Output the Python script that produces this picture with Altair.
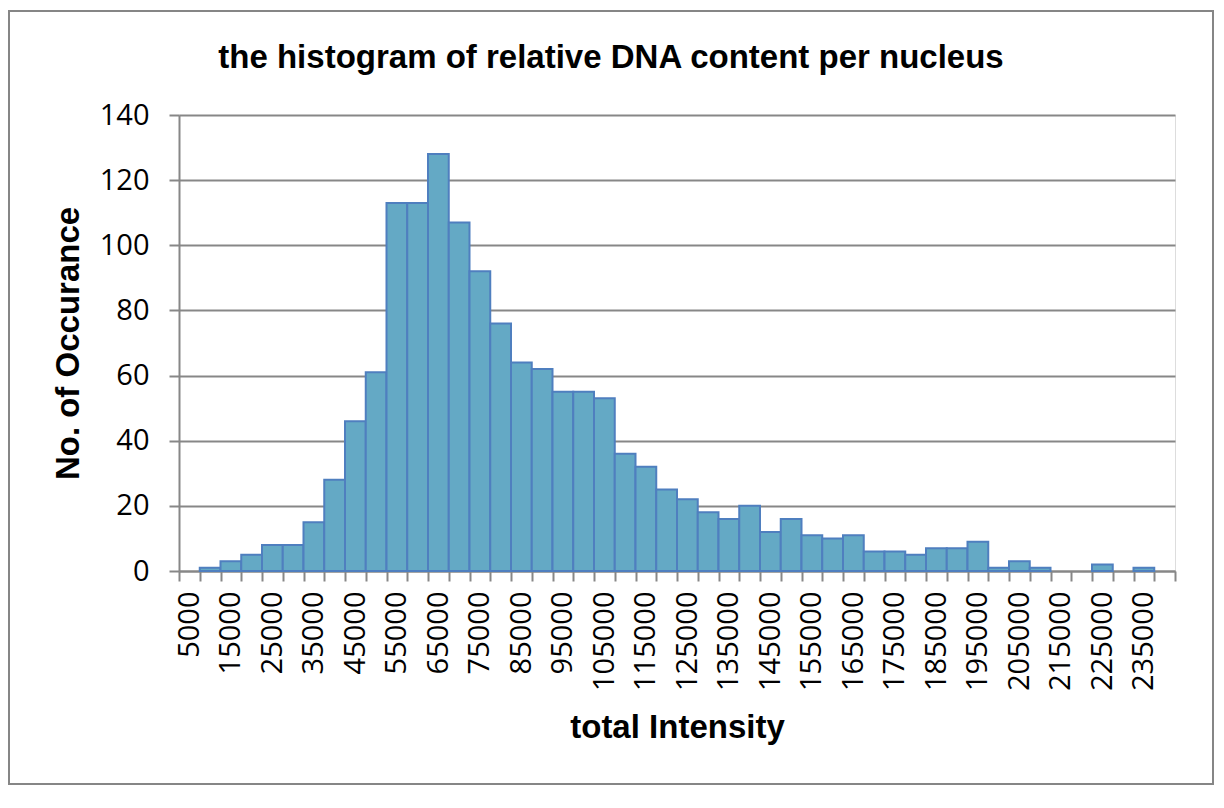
import altair as alt
import pandas as pd

# category labels (bin centres of total intensity)
categories = [5000, 10000, 15000, 20000, 25000, 30000, 35000, 40000, 45000, 50000,
              55000, 60000, 65000, 70000, 75000, 80000, 85000, 90000, 95000, 100000,
              105000, 110000, 115000, 120000, 125000, 130000, 135000, 140000, 145000, 150000,
              155000, 160000, 165000, 170000, 175000, 180000, 185000, 190000, 195000, 200000,
              205000, 210000, 215000, 220000, 225000, 230000, 235000, 240000]

# number of occurrences per bin
counts = [0, 1, 3, 5, 8, 8, 15, 28, 46, 61,
          113, 113, 128, 107, 92, 76, 64, 62, 55, 55,
          53, 36, 32, 25, 22, 18, 16, 20, 12, 16,
          11, 10, 11, 6, 6, 5, 7, 7, 9, 1,
          3, 1, 0, 0, 2, 0, 1, 0]

y_ticks = [0, 20, 40, 60, 80, 100, 120, 140]

df = pd.DataFrame({"intensity": categories, "count": counts})

GRAY = "#878787"
LABEL_FONT = "Open Sans"
TITLE_FONT = "Liberation Sans"

bars = alt.Chart(df).transform_filter("datum.count > 0").mark_bar(
    color="#64A9C5", stroke="#4F7FBF", strokeWidth=2
).encode(
    x=alt.X("intensity:O",
            sort=categories,
            scale=alt.Scale(domain=categories, paddingInner=0, paddingOuter=0),
            axis=alt.Axis(title="total Intensity",
                          labelAngle=270,
                          labelExpr="datum.value % 10000 == 5000 ? '' + datum.value : ''",
                          labelOverlap=False,
                          labelFont=LABEL_FONT, labelFontSize=29, labelColor="#000000",
                          labelPadding=10,
                          tickBand="extent", tickSize=10, tickColor=GRAY, tickWidth=2,
                          domainColor=GRAY, domainWidth=2,
                          titleFont=TITLE_FONT, titleFontSize=33, titleFontWeight="bold",
                          titleColor="#000000", titlePadding=21)),
    y=alt.Y("count:Q",
            scale=alt.Scale(domain=[0, 140], nice=False),
            axis=alt.Axis(title="No. of Occurance",
                          values=y_ticks,
                          grid=True, gridColor=GRAY, gridWidth=2,
                          labelFont=LABEL_FONT, labelFontSize=29, labelColor="#000000",
                          labelPadding=20,
                          tickSize=10, tickColor=GRAY, tickWidth=2,
                          domainColor=GRAY, domainWidth=2,
                          titleFont=TITLE_FONT, titleFontSize=33, titleFontWeight="bold",
                          titleColor="#000000", titlePadding=14)),
)

frame = alt.Chart(pd.DataFrame({"k": [0]})).mark_rect(
    fillOpacity=0, stroke="#868686", strokeWidth=2
).encode(
    x=alt.value(-170), x2=alt.value(1034), y=alt.value(-104), y2=alt.value(669)
)

chart = alt.layer(frame, bars).properties(
    width=996,
    height=456,
    padding={"left": 179, "top": 115, "right": 49, "bottom": 237},
    autosize=alt.AutoSizeParams(type="none"),
    title=alt.TitleParams("the histogram of relative DNA content per nucleus",
                          font=TITLE_FONT, fontSize=33, fontWeight="bold",
                          color="#000000", frame="bounds", anchor="middle",
                          baseline="alphabetic", offset=-91),
).configure_view(stroke=None).configure(background="white")

chart.save("out.html", embed_options={"renderer": "svg", "actions": False})
